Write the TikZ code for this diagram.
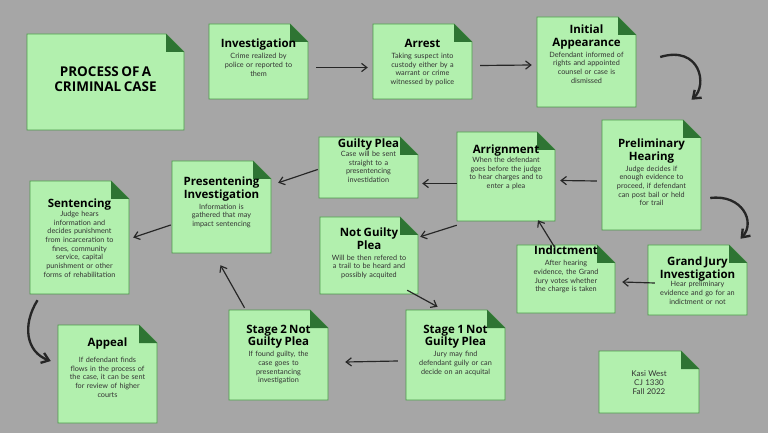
\documentclass[tikz,border=0pt]{standalone}
\usepackage{fontspec}
\setmainfont{Lato}
\newfontfamily\headfont{Open Sans}
\usetikzlibrary{positioning, calc, fit, arrows.meta}

\definecolor{bggray}{HTML}{A6A6A6}
\definecolor{notefill}{HTML}{B2F0AE}
\definecolor{noteline}{HTML}{4E9A4B}
\definecolor{notefold}{HTML}{2E7433}
\definecolor{bodytext}{HTML}{333333}

\newcommand{\ttlfont}{\headfont\bfseries\fontsize{9.8}{10.4}\selectfont\color{black}}
\newcommand{\bdyfont}{\fontsize{6.2}{7.4}\selectfont\color{bodytext}}
\newcommand{\notetitle}[1]{{\ttlfont #1\par}\vspace{2pt}}

% sticky note: name, x1, y1, x2, y2, text top, content
\newcommand{\stickynote}[7]{%
  \fill[notefill, draw=noteline, line width=0.8pt]
    (#2,#3) -- (#4-18,#3) -- (#4,#3+18) -- (#4,#5) -- (#2,#5) -- cycle;
  \fill[notefold] (#4-18,#3) -- (#4-18,#3+18) -- (#4,#3+18) -- cycle;
  \node[fit={(#2,#3)(#4,#5)}, inner sep=0pt] (#1) {};
  \node[anchor=north, text width={(#4-#2-6)*0.03cm}, align=center, inner sep=0pt,
        font=\bdyfont] (#1-text) at ({(#2+#4)/2},#6) {#7};
}

\tikzset{
  arr/.style={-{Straight Barb[length=4.5pt,width=7pt]}, line width=1pt, black!85},
  bigarr/.style={-{Straight Barb[length=6pt,width=9pt]}, line width=2pt, black!85},
}

\begin{document}
\begin{tikzpicture}[x=0.03cm, y=-0.03cm]
\fill[bggray] (0,0) rectangle (768,433);
\useasboundingbox (0,0) rectangle (768,433);

\stickynote{title}{27}{34}{184}{130}{67}{{\headfont\bfseries\fontsize{11.5}{12.5}\selectfont\color{black} PROCESS OF A\\CRIMINAL CASE\par}}
\stickynote{inv}{209}{24}{308}{99}{39}{\notetitle{Investigation}Crime realized by\\police or reported to\\them}
\stickynote{arrest}{373}{24}{472}{99}{39}{\notetitle{Arrest}Taking suspect into\\custody either by a\\warrant or crime\\witnessed by police}
\stickynote{init}{537}{17}{636}{107}{25}{\notetitle{Initial\\Appearance}Defendant informed of\\rights and appointed\\counsel or case is\\dismissed}
\stickynote{prelim}{602}{120}{701}{230}{139}{\notetitle{Preliminary\\Hearing}Judge decides if\\enough evidence to\\proceed, if defendant\\can post bail or held\\for trail}
\stickynote{arrign}{457}{132}{555}{221}{145}{{\ttlfont Arrignment\par}When the defendant\\goes before the judge\\to hear charges and to\\enter a plea}
\stickynote{guilty}{319}{137}{418}{198}{139}{{\ttlfont Guilty Plea\par}Case will be sent\\straight to a\\presentencing\\investidation}
\stickynote{presen}{172}{161}{271}{253}{177}{\notetitle{Presentening\\Investigation}Information is\\gathered that may\\impact sentencing}
\stickynote{sent}{30}{181}{129}{294}{199}{{\ttlfont Sentencing\par}Judge hears\\information and\\decides punishment\\from incarceration to\\fines, community\\service, capital\\punishment or other\\forms of rehabilitation}
\stickynote{notguilty}{320}{217}{418}{294}{228}{\notetitle{Not Guilty\\Plea}Will be then refered to\\a trail to be heard and\\possibly acquited}
\stickynote{indict}{517}{245}{615}{313}{246}{\notetitle{Indictment}After hearing\\evidence, the Grand\\Jury votes whether\\the charge is taken}
\stickynote{grand}{648}{245}{747}{315}{257}{{\ttlfont Grand Jury\\Investigation\par}Hear preliminary\\evidence and go for an\\indictment or not}
\stickynote{appeal}{58}{325}{157}{423}{338}{\notetitle{Appeal}\vspace{4pt}If defendant finds\\flows in the process of\\the case, it can be sent\\for review of higher\\courts}
\stickynote{stagetwo}{229}{310}{328}{400}{325}{\notetitle{Stage 2 Not\\Guilty Plea}If found guilty, the\\case goes to\\presentancing\\investigation}
\stickynote{stageone}{406}{310}{505}{400}{325}{\notetitle{Stage 1 Not\\Guilty Plea}Jury may find\\defendant guily or can\\decide on an acquital}
\stickynote{author}{599}{351}{699}{413}{370}{{\fontsize{6.8}{8}\selectfont Kasi West\\CJ 1330\\Fall 2022}}

% connectors
\draw[arr] ($(inv.east)+(8,6)$) -- ($(arrest.west)+(-5,6)$);
\draw[arr] ($(arrest.east)+(8,4)$) -- ($(init.west)+(-5,3)$);
\draw[bigarr] ($(init.east)+(24,-5)$) .. controls (700,45) and (708,85) .. ($(prelim.north)+(40,-20)$);
\draw[arr] ($(prelim.west)+(-5,6)$) -- ($(arrign.east)+(5,4)$);
\draw[bigarr] ($(prelim.east)+(9,23)$) .. controls (742,194) and (756,222) .. ($(grand.north)+(43,-6)$);
\draw[arr] ($(grand.west)+(7,3)$) -- ($(indict.east)+(7,3)$);
\draw[arr] ($(indict.north)+(-11,3)$) -- ($(arrign.south)+(32,-1)$);
\draw[arr] ($(arrign.west)+(0,7)$) -- ($(guilty.east)+(4,16)$);
\draw[arr] ($(arrign.south west)+(0,4)$) -- ($(notguilty.north east)+(2,20)$);
\draw[arr] ($(guilty.west)+(-1,2)$) -- ($(presen.north east)+(7,22)$);
\draw[arr] ($(notguilty.south east)+(-11,-4)$) -- ($(stageone.north)+(-18,-3)$);
\draw[arr] ($(stageone.west)+(-8,6)$) -- ($(stagetwo.east)+(17,7)$);
\draw[arr] ($(stagetwo.north)+(-34,-2)$) -- ($(presen.south)+(-1,12)$);
\draw[arr] ($(presen.west)+(-1,18)$) -- ($(sent.east)+(4,0)$);
\draw[bigarr] ($(sent.south)+(-42,6)$) .. controls (22,325) and (26,352) .. ($(appeal.west)+(-7,-13)$);
\end{tikzpicture}
\end{document}
